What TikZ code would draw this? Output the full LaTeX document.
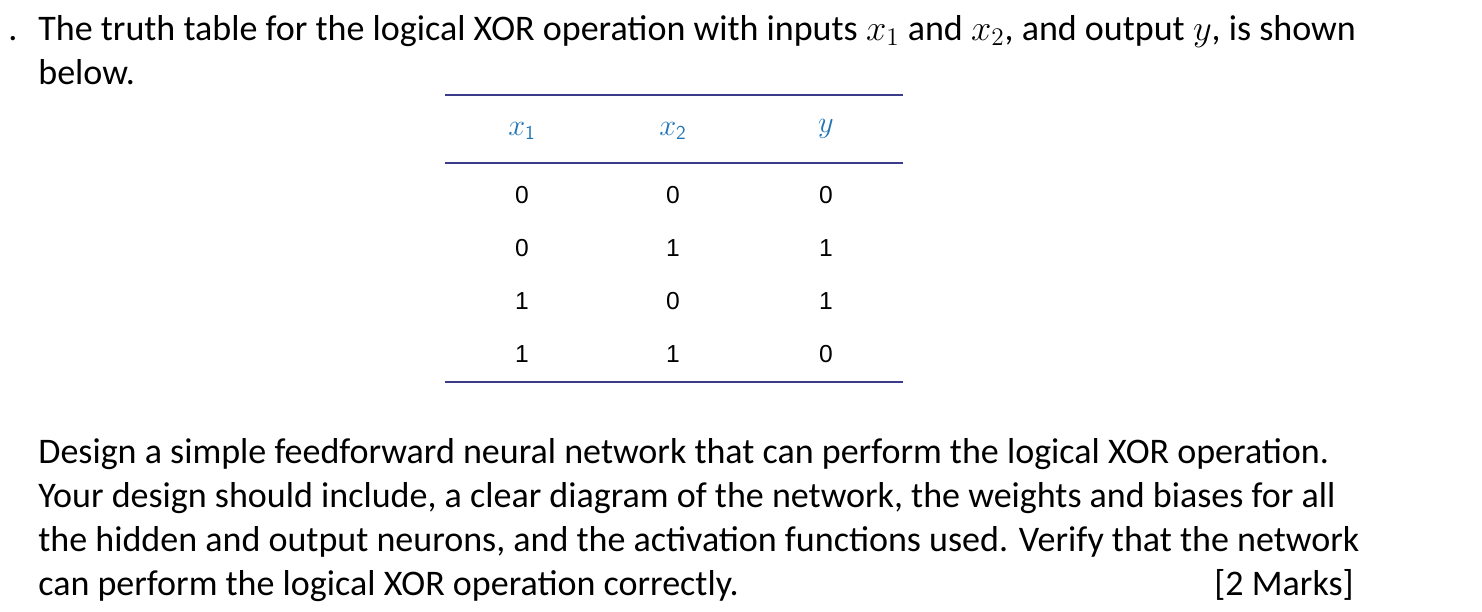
\documentclass[tikz,border=0pt]{standalone}
\usepackage{fontspec}
\setmainfont{Carlito}
\newfontfamily\arialfont{Liberation Sans}
\usetikzlibrary{positioning}
\definecolor{rulecol}{HTML}{3B3B8C}
\definecolor{headcol}{HTML}{1F74B8}

\begin{document}
\begin{tikzpicture}[
    x=0.02cm, y=-0.02cm,
    para/.style={anchor=base west, inner sep=0pt, font=\fontsize{20.5}{24}\selectfont},
    cell/.style={inner sep=0pt, font=\arialfont\fontsize{14}{16}\selectfont},
    head/.style={inner sep=0pt, text=headcol, font=\fontsize{16}{18}\selectfont},
    tabrule/.style={draw=rulecol, line width=1.3pt},
]
\useasboundingbox (0,0) rectangle (1482,612);

% QUESTION TEXT
\node[para] at (8,40) (dot) {.};
\node[para] at (38,40) (line1) {The truth table for the logical XOR operation with inputs $x_1$ and $x_2$, and output $y$, is shown};
\node[para] at (38,84) (line2) {below.};

% TABLE RULES
\coordinate (tl) at (445,95);
\coordinate (tr) at (903,95);
\coordinate (ml) at (445,163);
\coordinate (mr) at (903,163);
\coordinate (bl) at (445,382);
\coordinate (br) at (903,382);
\draw[tabrule] (tl) -- (tr);
\draw[tabrule] (ml) -- (mr);
\draw[tabrule] (bl) -- (br);

% HEADER
\node[head] at (522,131) (hx1) {$x_{\mathsf{1}}$};
\node[head] at (673,131) (hx2) {$x_{\mathsf{2}}$};
\node[head] at (826,129) (hy) {$y$};

% ROWS
\foreach \a/\b/\c [count=\r] in {0/0/0, 0/1/1, 1/0/1, 1/1/0} {
    \node[cell] at (522,142+53*\r) (a\r) {\a};
    \node[cell] at (673,142+53*\r) (b\r) {\b};
    \node[cell] at (826,142+53*\r) (c\r) {\c};
}

% TASK TEXT
\node[para] at (38,463) (task1) {Design a simple feedforward neural network that can perform the logical XOR operation.};
\node[para] at (38,507) (task2) {Your design should include, a clear diagram of the network, the weights and biases for all};
\node[para] at (38,551) (task3) {the hidden and output neurons, and the activation functions used. Verify that the network};
\node[para] at (38,595) (task4) {can perform the logical XOR operation correctly.};
\node[para, anchor=base east] at (1354,595) (marks) {[2 Marks]};
\end{tikzpicture}
\end{document}
